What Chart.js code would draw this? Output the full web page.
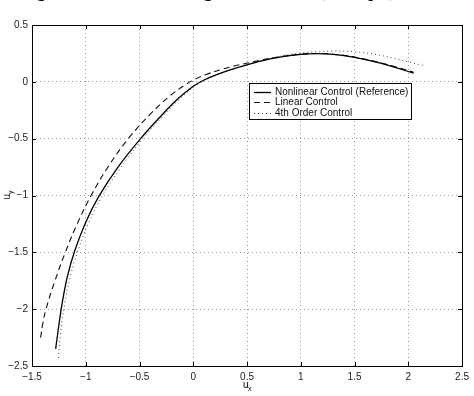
<!DOCTYPE html>
<html>
<head>
<meta charset="utf-8">
<script src="https://cdn.jsdelivr.net/npm/chart.js@4.4.0/dist/chart.umd.min.js"></script>
<style>
    html, body { margin: 0; padding: 0; background: #fff; overflow: hidden; }
    #wrap { position: relative; width: 474px; height: 396px; overflow: hidden; }
    #chart { position: absolute; left: 0; top: 0; }
    #title { position: absolute; top: -18px; left: 22px; font: bold 17px "Liberation Serif", serif; white-space: nowrap; color: #000; }
</style>
</head>
<body>
<div id="wrap">
    <canvas id="chart" width="474" height="396"></canvas>
    <div id="title">Fig. 3&nbsp; Results of Tracking Control Laws (Example)</div>
</div>
<script>
// Series (x = u_x, y = u_y)
const labels = ['Nonlinear Control (Reference)', 'Linear Control', '4th Order Control'];

const nonlinearX = [-1.28, -1.25, -1.22, -1.17, -1.10, -1.00, -0.88, -0.70, -0.49, -0.30, -0.15, 0.00, 0.10, 0.20, 0.35, 0.50, 0.75, 1.00, 1.15, 1.30, 1.50, 1.75, 2.05];
const nonlinearY = [-2.35, -2.14, -1.95, -1.71, -1.48, -1.235, -1.01, -0.75, -0.50, -0.30, -0.155, -0.039, 0.016, 0.057, 0.107, 0.150, 0.208, 0.242, 0.248, 0.242, 0.216, 0.162, 0.076];

const linearX = [-1.42, -1.40, -1.37, -1.29, -1.19, -1.08, -0.95, -0.78, -0.60, -0.40, -0.22, -0.08, 0.02, 0.12, 0.25, 0.40, 0.55, 0.75, 1.00, 1.15, 1.30, 1.50, 1.75, 2.05];
const linearY = [-2.25, -2.13, -2.00, -1.76, -1.50, -1.25, -1.00, -0.73, -0.495, -0.285, -0.126, -0.03, 0.025, 0.065, 0.105, 0.143, 0.175, 0.212, 0.243, 0.249, 0.243, 0.218, 0.165, 0.085];

const quarticX = [-1.255, -1.235, -1.20, -1.14, -1.07, -0.97, -0.85, -0.67, -0.47, -0.28, -0.13, 0.02, 0.12, 0.22, 0.37, 0.52, 0.75, 1.00, 1.15, 1.30, 1.50, 1.70, 1.85, 2.00, 2.16];
const quarticY = [-2.43, -2.22, -1.97, -1.70, -1.48, -1.235, -1.01, -0.75, -0.50, -0.30, -0.155, -0.035, 0.02, 0.062, 0.113, 0.158, 0.215, 0.253, 0.265, 0.270, 0.265, 0.240, 0.210, 0.175, 0.140];

const xMin = -1.5, xMax = 2.5, yMin = -2.5, yMax = 0.5, step = 0.5;

function toPoints(xs, ys) {
    return xs.map((x, i) => ({ x: x, y: ys[i] }));
}

// MATLAB style minus sign on the tick labels
function tickText(v) {
    return String(Math.round(v * 10) / 10).replace('-', '\u2212');
}

const frame = {
    id: 'frame',
    afterDraw(chart) {
        const ctx = chart.ctx;
        const a = chart.chartArea;
        const xs = chart.scales.x, ys = chart.scales.y;
        ctx.save();
        // box
        ctx.strokeStyle = '#000';
        ctx.lineWidth = 1;
        ctx.setLineDash([]);
        ctx.strokeRect(Math.round(a.left) + 0.5, Math.round(a.top) + 0.5, Math.round(a.right - a.left), Math.round(a.bottom - a.top));
        // inward ticks on all four sides
        ctx.beginPath();
        for (let v = xMin + step; v < xMax - 1e-9; v += step) {
            const px = Math.round(xs.getPixelForValue(v)) + 0.5;
            ctx.moveTo(px, a.bottom); ctx.lineTo(px, a.bottom - 4);
            ctx.moveTo(px, a.top); ctx.lineTo(px, a.top + 4);
        }
        for (let v = yMin + step; v < yMax - 1e-9; v += step) {
            const py = Math.round(ys.getPixelForValue(v)) + 0.5;
            ctx.moveTo(a.left, py); ctx.lineTo(a.left + 4, py);
            ctx.moveTo(a.right, py); ctx.lineTo(a.right - 4, py);
        }
        ctx.stroke();

        // axis titles: u with subscripts
        ctx.fillStyle = '#000';
        ctx.textBaseline = 'alphabetic';
        ctx.textAlign = 'left';
        const cx = xs.getPixelForValue(0.5);
        ctx.font = '10px "Liberation Sans", Arial, sans-serif';
        ctx.fillText('u', cx - 4, 388);
        ctx.font = '7px "Liberation Sans", Arial, sans-serif';
        ctx.fillText('x', cx + 1, 391);

        ctx.translate(10, ys.getPixelForValue(-1) + 4);
        ctx.rotate(-Math.PI / 2);
        ctx.font = '10px "Liberation Sans", Arial, sans-serif';
        ctx.fillText('u', 0, 0);
        ctx.font = '7px "Liberation Sans", Arial, sans-serif';
        ctx.fillText('y', 5.5, 3);
        ctx.restore();

        // legend box inside the plot
        const lx = 249, ly = 83, lw = 162, lh = 36;
        ctx.save();
        ctx.fillStyle = '#fff';
        ctx.fillRect(lx, ly, lw, lh);
        ctx.strokeStyle = '#000';
        ctx.lineWidth = 1;
        ctx.strokeRect(lx + 0.5, ly + 0.5, lw, lh);
        ctx.font = '10px "Liberation Sans", Arial, sans-serif';
        ctx.textBaseline = 'middle';
        ctx.textAlign = 'left';
        chart.data.datasets.forEach((ds, i) => {
            const ry = ly + 8.5 + i * 10.5;
            ctx.strokeStyle = ds.borderColor;
            ctx.lineWidth = ds.borderWidth;
            ctx.setLineDash(ds.borderDash || []);
            ctx.beginPath();
            ctx.moveTo(lx + 5, Math.round(ry) + 0.5);
            ctx.lineTo(lx + 22, Math.round(ry) + 0.5);
            ctx.stroke();
            ctx.fillStyle = '#111';
            ctx.fillText(ds.label, lx + 26, ry + 0.5);
        });
        ctx.restore();
    }
};

const axisFont = { family: '"Liberation Sans", Arial, sans-serif', size: 10 };

new Chart(document.getElementById('chart'), {
    type: 'scatter',
    data: {
        datasets: [{
            label: labels[0],
            data: toPoints(nonlinearX, nonlinearY),
            borderColor: '#000',
            borderWidth: 1.3,
            borderDash: []
        }, {
            label: labels[1],
            data: toPoints(linearX, linearY),
            borderColor: '#111',
            borderWidth: 1.1,
            borderDash: [6, 4]
        }, {
            label: labels[2],
            data: toPoints(quarticX, quarticY),
            borderColor: '#444',
            borderWidth: 1,
            borderDash: [1, 3]
        }].map(ds => Object.assign(ds, {
            showLine: true,
            pointRadius: 0,
            pointHoverRadius: 0,
            fill: false,
            tension: 0.4
        }))
    },
    options: {
        responsive: false,
        animation: false,
        layout: { padding: { left: 0, right: 7, top: 25, bottom: 0 } },
        plugins: {
            legend: { display: false },
            tooltip: { enabled: false },
            title: { display: false }
        },
        scales: {
            x: {
                type: 'linear',
                min: xMin,
                max: xMax,
                ticks: { stepSize: step, padding: 5, color: '#222', font: axisFont, maxRotation: 0, callback: tickText },
                grid: { color: '#999', lineWidth: 1, drawTicks: false },
                border: { display: false, dash: [1, 3] },
                afterFit(s) { s.height = 30; }
            },
            y: {
                type: 'linear',
                min: yMin,
                max: yMax,
                ticks: { stepSize: step, padding: 4, color: '#222', font: axisFont, callback: tickText },
                grid: { color: '#999', lineWidth: 1, drawTicks: false },
                border: { display: false, dash: [1, 3] },
                afterFit(s) { s.width = 32; }
            }
        }
    },
    plugins: [frame]
});
</script>
</body>
</html>
